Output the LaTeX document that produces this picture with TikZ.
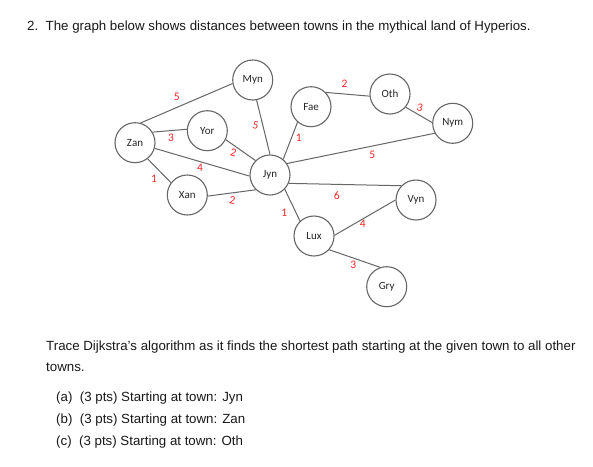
\documentclass[tikz,border=0pt]{standalone}
\usepackage{fontspec}
\setmainfont{Liberation Sans}
\newfontfamily\calfont{Carlito}
\begin{document}
\begin{tikzpicture}[x=1pt,y=-1pt,
  town/.style={circle,draw=black!60,line width=1.1pt,minimum size=40pt,inner sep=0pt,font=\calfont\fontsize{11}{11}\selectfont,text=black!85},
  road/.style={draw=black!60,line width=1pt},
  wt/.style={text=red!85!white,font=\calfont\fontsize{11.5}{11}\selectfont,inner sep=0pt},
  txt/.style={anchor=base west,inner sep=0pt,font=\fontsize{13.3}{15}\selectfont,text=black!90}]
\useasboundingbox (0,0) rectangle (593,466);
\fill[white] (0,0) rectangle (593,466);
\node[txt] (title) at (27,30) {2.\ \ The graph below shows distances between towns in the mythical land of Hyperios.};
\node (Myn) [town] at (252.7,80) {Myn};
\node (Yor) [town] at (207.3,130.7) {Yor};
\node (Zan) [town] at (135,142.7) {Zan};
\node (Jyn) [town] at (270,175) {Jyn};
\node (Xan) [town] at (187.3,195) {Xan};
\node (Fae) [town] at (311,106.7) {Fae};
\node (Oth) [town] at (390,94) {Oth};
\node (Nym) [town] at (452.7,123.3) {Nym};
\node (Vyn) [town] at (416,200) {Vyn};
\node (Lux) [town] at (314,236) {Lux};
\node (Gry) [town] at (386.7,286.7) {Gry};
\draw[road] (Zan.74) -- (Myn.190);
\draw[road] (Zan.31) -- (Yor.176);
\draw[road] (Zan.-16) -- (Jyn.183);
\draw[road] (Zan.-52) -- (Xan.143);
\draw[road] (Yor.-26) -- (Jyn.135);
\draw[road] (Myn.-79) -- (Jyn.90);
\draw[road] (Xan.-3) -- (Jyn.226);
\draw[road] (Fae.229) -- (Jyn.50);
\draw[road] (Fae.44) -- (Oth.186);
\draw[road] (Oth.-40) -- (Nym.178);
\draw[road] (Nym.209) -- (Jyn.34);
\draw[road] (Jyn.-24) -- (Vyn.136);
\draw[road] (Jyn.-44) -- (Lux.133);
\draw[road] (Lux.2) -- (Vyn.180);
\draw[road] (Lux.-42) -- (Gry.109);
\node (w1) [wt] at (176.7,96.7) {5};
\node (w2) [wt] at (171,138.3) {3};
\node (w3) [wt] at (200,168.3) {4};
\node (w4) [wt] at (154,178.3) {1};
\node (w5) [wt,rotate=-15] at (233.3,152.7) {2};
\node (w6) [wt,rotate=-10] at (255.7,125) {5};
\node (w7) [wt,rotate=-10] at (232.3,200) {2};
\node (w8) [wt] at (298.7,137.3) {1};
\node (w9) [wt] at (344.5,83.3) {2};
\node (w10) [wt,rotate=-15] at (420,107.7) {3};
\node (w11) [wt] at (372.3,155) {5};
\node (w12) [wt] at (336.7,195.5) {6};
\node (w13) [wt] at (284.3,212.7) {1};
\node (w14) [wt] at (362.7,224.3) {4};
\node (w15) [wt] at (353.3,265) {3};
\node[txt] (q1) at (46,350) {Trace Dijkstra's algorithm as it finds the shortest path starting at the given town to all other};
\node[txt] (q2) at (46,371.7) {towns.};
\node[txt] (qa) at (56,401.5) {(a)\ \ (3 pts) Starting at town: Jyn};
\node[txt] (qb) at (56,423.2) {(b)\ \ (3 pts) Starting at town: Zan};
\node[txt] (qc) at (56,445) {(c)\ \ (3 pts) Starting at town: Oth};
\end{tikzpicture}
\end{document}
